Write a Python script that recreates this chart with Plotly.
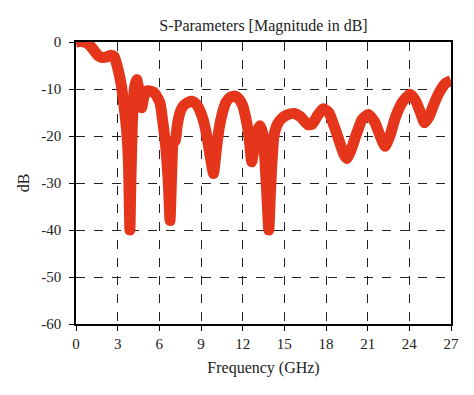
import plotly.graph_objects as go

freq_ghz = [0, 0.3, 0.6, 1.0, 1.3, 1.6, 1.9, 2.2, 2.5, 2.75, 3.0, 3.25, 3.45, 3.65, 3.78, 3.88,
            3.95, 4.05, 4.2, 4.37, 4.55, 4.73, 4.9, 5.1, 5.4, 5.7, 6.05, 6.25, 6.45, 6.65, 6.77,
            6.9, 7.0, 7.15, 7.3, 7.55, 7.8, 8.1, 8.35, 8.65, 8.95, 9.2, 9.45, 9.7, 9.9, 10.1,
            10.3, 10.55, 10.8, 11.1, 11.45, 11.75, 12.0, 12.25, 12.45, 12.65, 12.85, 13.05,
            13.25, 13.45, 13.6, 13.75, 13.88, 14.0, 14.1, 14.25, 14.5, 14.8, 15.2, 15.7, 16.2,
            16.7, 17.0, 17.4, 17.8, 18.2, 18.6, 19.0, 19.3, 19.5, 19.8, 20.2, 20.6, 21.05,
            21.5, 21.9, 22.25, 22.6, 23.0, 23.5, 24.05, 24.45, 24.8, 25.1, 25.4, 25.8, 26.2,
            26.6, 27.0]

s_db = [0, 0.1, 0, -0.7, -1.8, -2.9, -3.3, -3.2, -2.8, -3.1, -5.5, -9, -13.5, -19, -26, -40,
        -30, -18, -10, -8, -10.5, -14, -11.5, -10.4, -10.5, -11, -13, -17, -22, -30, -38,
        -27, -21.5, -21, -17.5, -14.5, -13.4, -12.8, -12.6, -13.2, -14.8, -17, -20.5, -25, -28,
        -23, -18.5, -15, -12.8, -11.8, -11.5, -12.2, -13.5, -16.5, -20, -25.5, -22, -19,
        -17.8, -19.5, -25, -33, -40, -32, -26, -20, -17.5, -16.3, -15.5, -15.2, -16,
        -17.6, -17.5, -15.6, -14.2, -15, -18, -21.5, -24, -24.8, -23, -19.5, -16.5, -15.4,
        -17, -20, -22.2, -20, -16, -12.8, -11.1, -12.5, -15, -17.2, -16, -13, -10.5,
        -8.8, -8.2]

x_ticks = [0, 3, 6, 9, 12, 15, 18, 21, 24, 27]
y_ticks = [0, -10, -20, -30, -40, -50, -60]
y_tick_labels = ["0", "-10", "-20", "-30", "-40", "-50", "-60"]

font_family = "Liberation Serif, DejaVu Serif, serif"

fig = go.Figure()
fig.add_trace(go.Scatter(
    x=freq_ghz, y=s_db, mode="lines",
    line=dict(color="#E5361B", width=11, shape="spline", smoothing=0.5),
    showlegend=False,
))

axis_common = dict(
    showline=True, linecolor="black", linewidth=1.5, mirror=True,
    showgrid=True, gridcolor="#222222", gridwidth=1, griddash="dash",
    ticks="outside", ticklen=5, tickcolor="black",
    zeroline=False,
    tickfont=dict(family=font_family, size=15, color="#222222"),
    title_font=dict(family=font_family, size=16, color="#222222"),
)

fig.update_layout(
    width=466, height=387,
    margin=dict(l=68, r=23, t=34, b=71),
    paper_bgcolor="white", plot_bgcolor="white",
    title=dict(text="S-Parameters [Magnitude in dB]", xref="paper", x=0.5, xanchor="center",
               y=0.956, yanchor="middle",
               font=dict(family=font_family, size=16, color="#222222")),
    xaxis=dict(range=[0, 27], tickvals=x_ticks, title=dict(text="Frequency (GHz)", standoff=11),
               **axis_common),
    yaxis=dict(range=[-60, 0], tickvals=y_ticks, ticktext=y_tick_labels,
               title=dict(text="dB", standoff=8),
               ticklabelstandoff=5, **axis_common),
)

fig.write_html("out.html")
